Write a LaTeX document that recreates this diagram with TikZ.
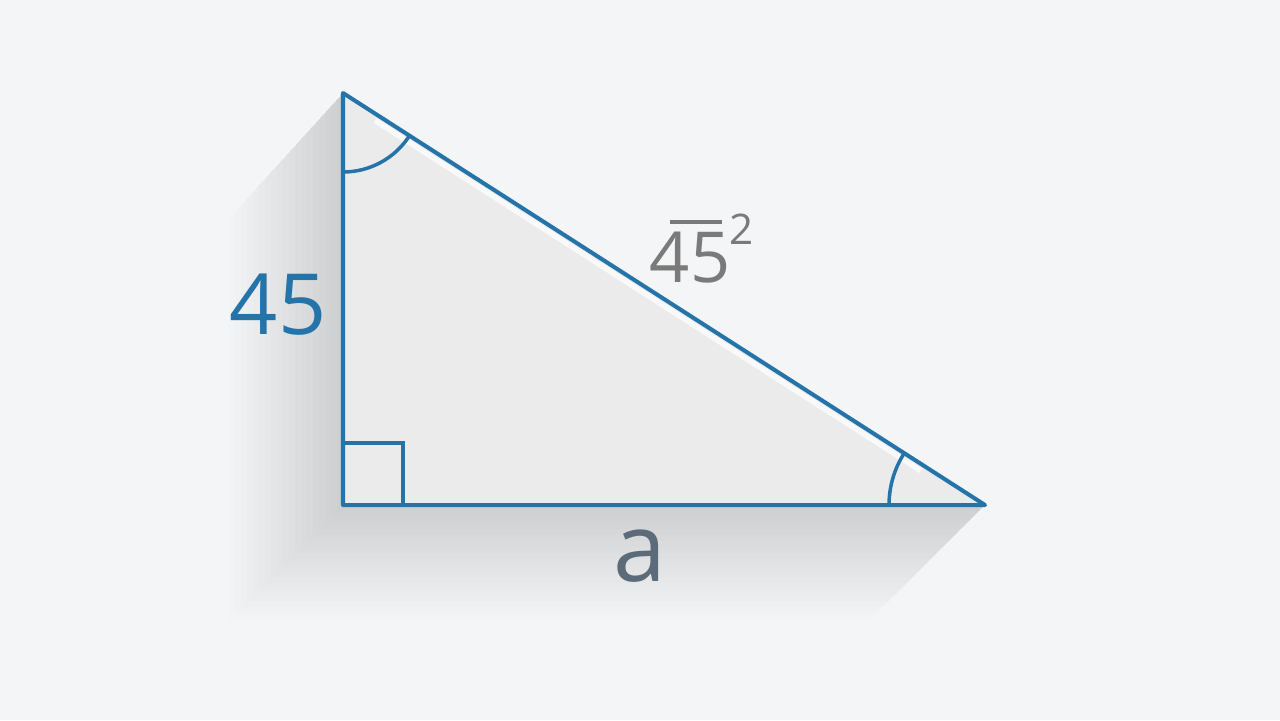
\documentclass[tikz,border=0pt]{standalone}
\usetikzlibrary{calc}
\usepackage{fontspec}
\setmainfont{Open Sans}
\definecolor{bg}{HTML}{F4F5F6}
\definecolor{tri}{HTML}{2474AA}
\definecolor{trifill}{HTML}{EBEBEC}
\definecolor{agray}{HTML}{5B6B79}
\definecolor{hgray}{HTML}{7A7A7A}
\begin{document}
\begin{tikzpicture}[x=0.01cm,y=-0.01cm,
  edge/.style={draw=tri,line width=1.15pt,line join=round,line cap=round},
  anglemark/.style={draw=tri,line width=1.0pt}]
\fill[bg] (0,0) rectangle (1280,720);
\useasboundingbox (0,0) rectangle (1280,720);
% soft shadow
\foreach \d in {6,12,...,114}{
  \fill[black,opacity=0.0075] (343-\d,93+\d*1.1) -- (343-\d,505+\d) -- (985-\d,505+\d) -- (985,505) -- (343,505) -- (343,93) -- cycle;
}
% triangle
\coordinate (A) at (343,93);
\coordinate (B) at (343,505);
\coordinate (C) at (985,505);
\fill[trifill] (A) -- (B) -- (C) -- cycle;
\draw[white,line width=1.5pt,opacity=0.7] ($(A)!0.05!(C)+(0,7)$) -- ($(A)!0.9!(C)+(0,7)$);
% right angle mark
\draw[anglemark] (343,443) -- (403,443) -- (403,505);
% angle arcs
\draw[anglemark] (343,172) arc[start angle=90,end angle=32.7,radius=79];
\draw[anglemark] (889,505) arc[start angle=180,end angle=212.7,radius=96];
\draw[edge] (A) -- (B) -- (C) -- cycle;
% labels
\node[text=tri,font=\fontsize{24}{24}\selectfont] (l45) at (278,305) {45};
\node[text=agray,font=\fontsize{27}{27}\selectfont] (la) at (640,556) {a};
\node[text=hgray,font=\fontsize{20}{20}\selectfont,inner sep=0pt] (lh) at (690,258) {45};
\draw[hgray,line width=0.9pt] (670,222) -- (722,222);
\node[text=hgray,font=\fontsize{12}{12}\selectfont,inner sep=0pt] (l2) at (742,229) {2};
\end{tikzpicture}
\end{document}
